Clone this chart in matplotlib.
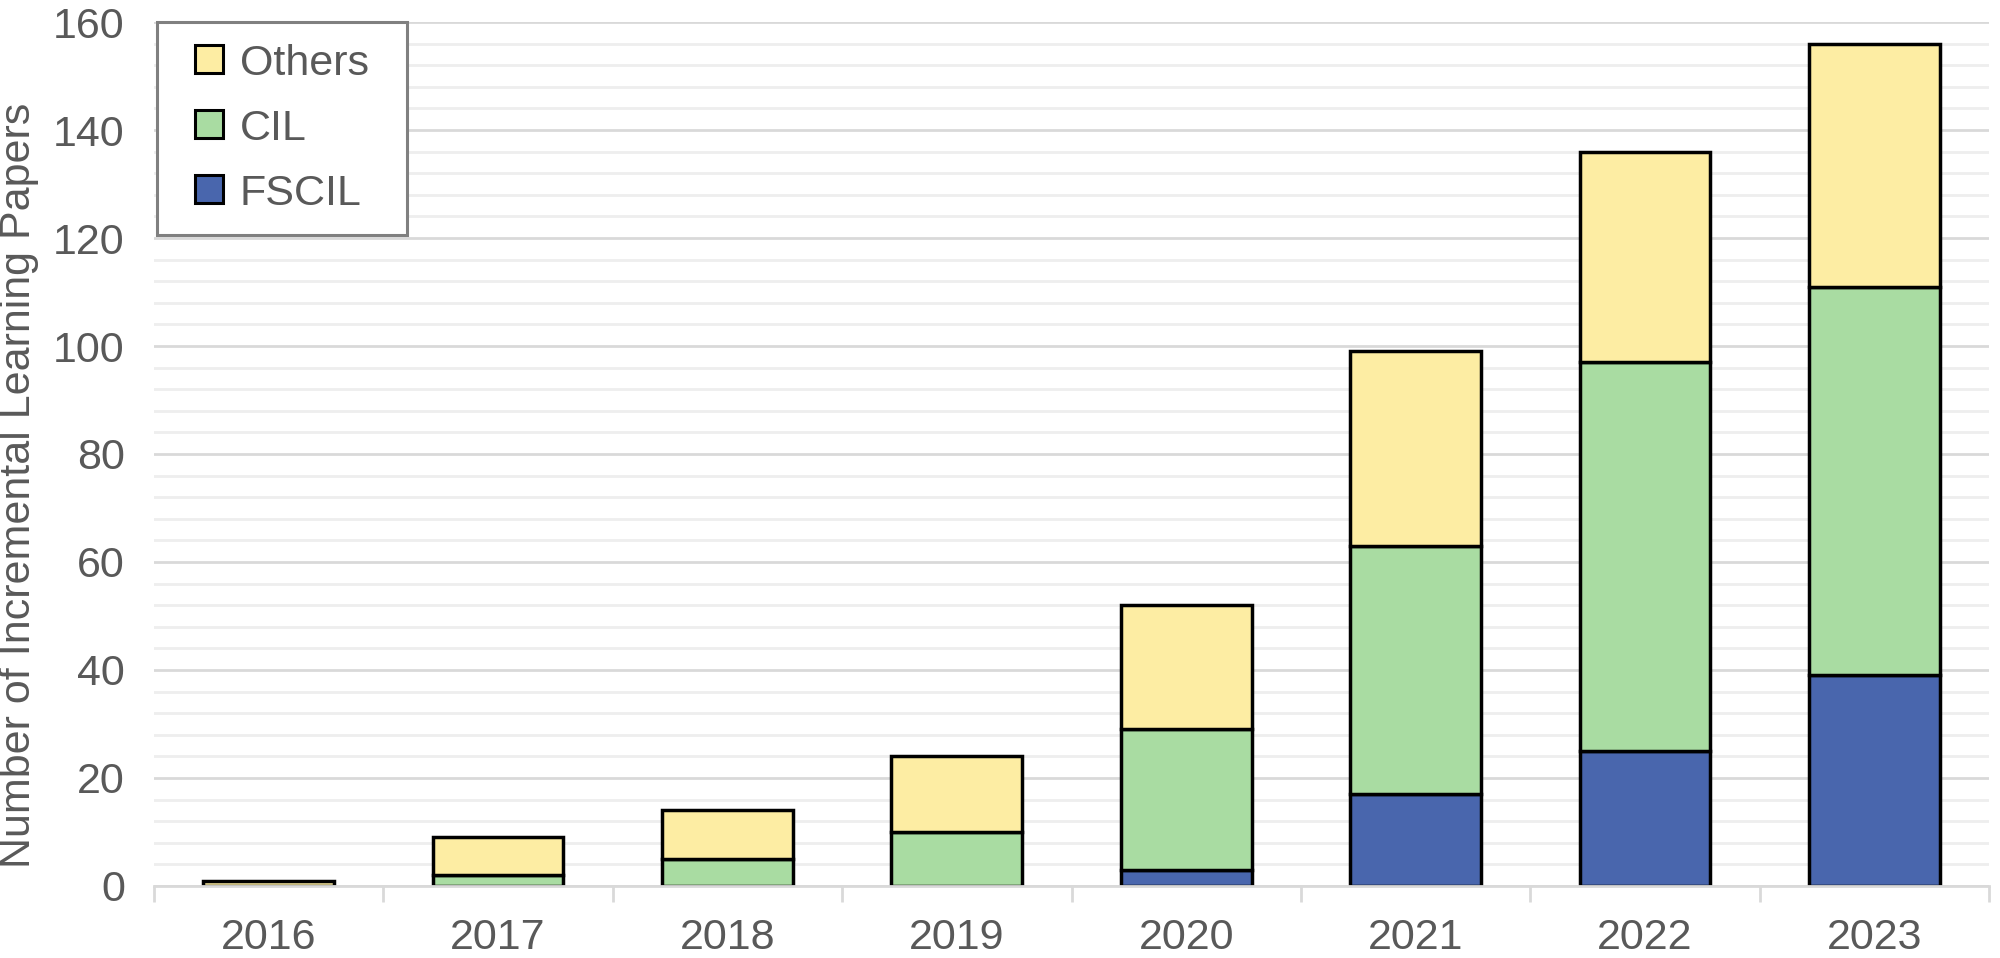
import matplotlib
matplotlib.use("Agg")
import matplotlib.pyplot as plt
from matplotlib.lines import Line2D
import numpy as np

years = ["2016", "2017", "2018", "2019", "2020", "2021", "2022", "2023"]
fscil = [0, 0, 0, 0, 3, 17, 25, 39]
cil = [0, 2, 5, 10, 26, 46, 72, 72]
others = [1, 7, 9, 14, 23, 36, 39, 45]

plt.rcParams['font.family'] = ['Liberation Sans', 'DejaVu Sans']
text_col = '#595959'
c_fscil = '#4966ad'
c_cil = '#a9dca2'
c_others = '#fdeda3'
fs = 31

fig = plt.figure(figsize=(20, 9.58), dpi=100)
ax = fig.add_axes([0.077, 0.0752, 0.9175, 0.9018])

x = np.arange(len(years))
w = 0.57
fscil_a = np.array(fscil)
cil_a = np.array(cil)
others_a = np.array(others)

ax.bar(x, fscil_a, w, color=c_fscil, edgecolor='black', linewidth=2.5, zorder=3)
ax.bar(x, cil_a, w, bottom=fscil_a, color=c_cil, edgecolor='black', linewidth=2.5, zorder=3)
ax.bar(x, others_a, w, bottom=fscil_a + cil_a, color=c_others, edgecolor='black', linewidth=2.5, zorder=3)

ax.set_xlim(-0.5, len(years) - 0.5)
ax.set_ylim(0, 160)
ax.set_yticks(np.arange(0, 161, 20))
ax.set_yticks(np.arange(0, 161, 4), minor=True)
ax.yaxis.grid(True, which='major', color='#d9d9d9', linewidth=2.0)
ax.yaxis.grid(True, which='minor', color='#eeeeee', linewidth=2.0)
ax.set_axisbelow(True)

ax.set_xticks(x)
ax.set_xticklabels(years)
ax.set_xticks(np.arange(-0.5, len(years)), minor=True)
ax.tick_params(axis='x', which='major', length=0, pad=23, labelsize=fs, colors=text_col)
ax.tick_params(axis='x', which='minor', length=11.5, width=2.0, color='#d9d9d9')
ax.tick_params(axis='y', which='both', length=0, pad=21, labelsize=fs, colors=text_col)

for s in ['top', 'right', 'left']:
    ax.spines[s].set_visible(False)
ax.spines['bottom'].set_color('#d9d9d9')
ax.spines['bottom'].set_linewidth(2.0)
ax.spines['bottom'].set_zorder(4)

ax.set_ylabel("Number of Incremental Learning Papers", fontsize=fs, color=text_col)
ax.yaxis.set_label_coords(-0.0625, 0.464)

# legend with square markers
handles = [Line2D([], [], linestyle='none', marker='s', markersize=20, markeredgewidth=2.2,
                  markerfacecolor=c, markeredgecolor='black')
           for c in [c_others, c_cil, c_fscil]]
leg = ax.legend(handles, ['Others', 'CIL', 'FSCIL'], loc='upper left',
                bbox_to_anchor=(0.0016, 0.0, 0.1362, 1.0), mode='expand',
                fontsize=fs, frameon=True, fancybox=False, borderaxespad=0,
                handlelength=1.42, handletextpad=0.0, numpoints=1,
                labelspacing=0.58, borderpad=0.5, labelcolor=text_col)
leg.get_frame().set_edgecolor('#808080')
leg.get_frame().set_linewidth(2.2)
leg.get_frame().set_alpha(1)

fig.savefig("out.png", dpi=100)
